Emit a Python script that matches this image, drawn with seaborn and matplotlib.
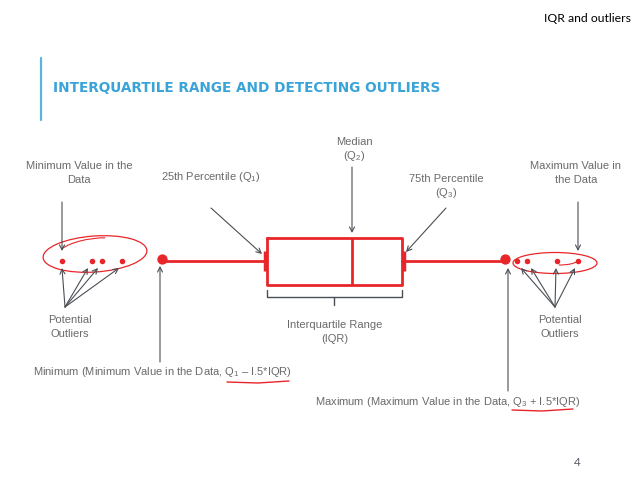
import matplotlib
matplotlib.use("Agg")
import matplotlib.pyplot as plt
import seaborn as sns
import numpy as np
import pandas as pd
from matplotlib.patches import Ellipse, Arc
from matplotlib import font_manager as fm

# ---------------- data (diagram values, pixel scale) ----------------
box_q1 = 267
box_median = 352
box_q3 = 402
whisker_low = 162
whisker_high = 505
outliers_low = [62, 92, 102, 122]
outliers_high = [517, 527, 557, 578]
box_position = 261

title_text = "INTERQUARTILE RANGE AND DETECTING OUTLIERS"
header_text = "IQR and outliers"
page_number = "4"

sns.set_style("white")
available = {f.name for f in fm.fontManager.ttflist}
label_font = "Liberation Sans" if "Liberation Sans" in available else "DejaVu Sans"
plt.rcParams["font.family"] = [label_font, "DejaVu Sans"]
plt.rcParams["mathtext.fontset"] = "custom"
plt.rcParams["mathtext.rm"] = label_font
plt.rcParams["mathtext.it"] = label_font

RED = "#e8262a"
GRAY = "#6a6a6a"
ARROW = "#4a4f55"

fig = plt.figure(figsize=(6.38, 4.78), dpi=100)
ax = fig.add_axes([0, 0, 1, 1])
ax.set_xlim(0, 638)
ax.set_ylim(478, 0)
ax.axis("off")

# ---------------- header ----------------
ax.text(631, 18, header_text, ha="right", va="center", fontsize=8.8,
        color="black", family=["Lato", "DejaVu Sans"])
ax.plot([41, 41], [58, 120], color="#5ab3dc", lw=1.6)
ax.text(53, 88, title_text, ha="left", va="center", fontsize=9.8,
        fontweight="bold", color="#3aa4d9", family=["DejaVu Sans"])
ax.text(577, 462, page_number, ha="center", va="center", fontsize=8.5,
        color="#555a66", family=["Lato", "DejaVu Sans"])

# ---------------- box plot ----------------
stats = [{
    "med": box_median, "q1": box_q1, "q3": box_q3,
    "whislo": whisker_low, "whishi": whisker_high, "fliers": [],
}]
ax.bxp(stats, positions=[box_position], widths=47, orientation="horizontal",
       showcaps=False, showfliers=False,
       boxprops=dict(color=RED, lw=2.0),
       whiskerprops=dict(color=RED, lw=2.0),
       medianprops=dict(color=RED, lw=2.0))
# short thick ticks at the box edges
for xv in (box_q1 - 2, box_q3 + 2):
    ax.plot([xv, xv], [box_position - 10, box_position + 10], color=RED, lw=2.5,
            solid_capstyle="butt")

# whisker end dots and outliers via seaborn
ends = pd.DataFrame({"x": [whisker_low, whisker_high],
                     "y": [box_position - 2, box_position - 2]})
sns.scatterplot(data=ends, x="x", y="y", ax=ax, color=RED, s=55,
                edgecolor=RED, linewidth=0, legend=False, zorder=5)
outs = pd.DataFrame({"x": outliers_low + outliers_high,
                     "y": [box_position] * (len(outliers_low) + len(outliers_high))})
sns.scatterplot(data=outs, x="x", y="y", ax=ax, color=RED, s=16,
                edgecolor=RED, linewidth=0, legend=False, zorder=5)
ax.set_xlim(0, 638)
ax.set_ylim(478, 0)
ax.set_xlabel("")
ax.set_ylabel("")

# hand-drawn circles around the outliers
ax.add_patch(Ellipse((95, 254), 104, 36, angle=-4, fill=False, ec=RED, lw=0.9))
ax.add_patch(Arc((100, 256), 90, 36, angle=-4, theta1=195, theta2=290,
                 ec=RED, lw=0.8))
ax.add_patch(Ellipse((555, 263), 84, 21, angle=0, fill=False, ec=RED, lw=0.9))
ax.add_patch(Arc((560, 258), 40, 14, angle=0, theta1=10, theta2=100,
                 ec=RED, lw=0.8))

# ---------------- annotations ----------------
def arrow(x0, y0, x1, y1):
    ax.annotate("", xy=(x1, y1), xytext=(x0, y0),
                arrowprops=dict(arrowstyle="->,head_length=0.35,head_width=0.18",
                                color=ARROW, lw=0.8, shrinkA=0, shrinkB=0))

fs = 8.0
ax.text(79, 166, "Minimum Value in the", ha="center", va="center", fontsize=fs, color=GRAY)
ax.text(79, 180, "Data", ha="center", va="center", fontsize=fs, color=GRAY)
arrow(62, 202, 62, 251)

ax.text(211, 177, r"25th Percentile (Q$_1$)", ha="center", va="center", fontsize=fs, color=GRAY)
arrow(211, 208, 262, 254)

ax.text(354, 142, "Median", ha="center", va="center", fontsize=fs, color=GRAY)
ax.text(354, 156, r"(Q$_2$)", ha="center", va="center", fontsize=fs, color=GRAY)
arrow(352, 167, 352, 233)

ax.text(446, 179, "75th Percentile", ha="center", va="center", fontsize=fs, color=GRAY)
ax.text(446, 193, r"(Q$_3$)", ha="center", va="center", fontsize=fs, color=GRAY)
arrow(446, 208, 406, 252)

ax.text(576, 166, "Maximum Value in", ha="center", va="center", fontsize=fs, color=GRAY)
ax.text(576, 180, "the Data", ha="center", va="center", fontsize=fs, color=GRAY)
arrow(578, 202, 578, 251)

# potential outliers
ax.text(70, 320, "Potential", ha="center", va="center", fontsize=fs, color=GRAY)
ax.text(70, 334, "Outliers", ha="center", va="center", fontsize=fs, color=GRAY)
for tx, ty in [(62, 268), (88, 268), (98, 268), (119, 268)]:
    arrow(65, 307, tx, ty)
ax.text(560, 320, "Potential", ha="center", va="center", fontsize=fs, color=GRAY)
ax.text(560, 334, "Outliers", ha="center", va="center", fontsize=fs, color=GRAY)
for tx, ty in [(521, 268), (531, 268), (556, 268), (575, 268)]:
    arrow(555, 307, tx, ty)

# IQR bracket
ax.plot([box_q1, box_q1, box_q3, box_q3], [290, 297, 297, 290], color=ARROW, lw=1.0)
ax.plot([334, 334], [297, 305], color=ARROW, lw=1.0)
ax.text(335, 325, "Interquartile Range", ha="center", va="center", fontsize=fs, color=GRAY)
ax.text(335, 339, "(IQR)", ha="center", va="center", fontsize=fs, color=GRAY)

# minimum / maximum fence arrows
arrow(160, 362, 160, 266)
arrow(508, 391, 508, 268)
ax.text(33, 372, r"Minimum (Minimum Value in the Data, Q$_1$ – I.5*IQR)",
        ha="left", va="center", fontsize=fs, color=GRAY)
ax.plot([227, 258, 289], [382, 383, 381], color=RED, lw=1.0)
ax.text(315, 402, r"Maximum (Maximum Value in the Data, Q$_3$ + I.5*IQR)",
        ha="left", va="center", fontsize=fs, color=GRAY)
ax.plot([512, 542, 573], [410, 411, 409], color=RED, lw=1.0)

fig.savefig("out.png", dpi=100)
